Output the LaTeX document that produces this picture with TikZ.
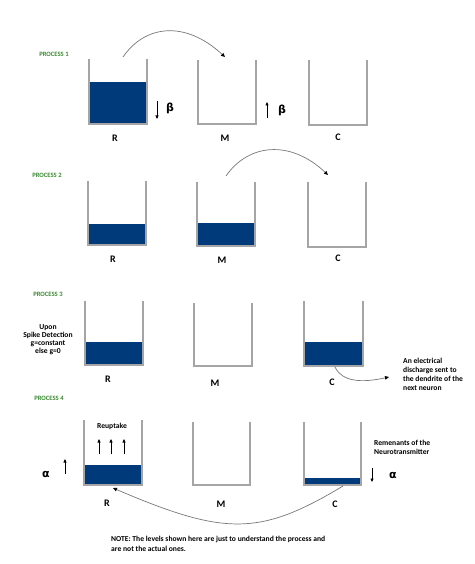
\documentclass[tikz,border=0pt]{standalone}
\usepackage{fontspec}
\setmainfont{Carlito}
\newfontfamily\greekfont{DejaVu Sans}
\usetikzlibrary{arrows.meta}
\definecolor{navy}{RGB}{0,58,122}
\definecolor{wallgray}{RGB}{165,165,165}
\definecolor{procgreen}{RGB}{58,140,50}
\definecolor{arcgray}{RGB}{120,120,120}
\newcommand\beaker[5]{%
  \fill[navy] (#1,#5) rectangle (#2,#4);
  \draw[wall] (#1,#3) -- (#1,#4) -- (#2,#4) -- (#2,#3);}
\begin{document}
\begin{tikzpicture}[x=1pt,y=-1pt,
  wall/.style={wallgray,line width=1.2pt},
  proc/.style={font=\fontsize{6.6}{7}\selectfont\bfseries,text=procgreen,inner sep=0pt},
  lbl/.style={font=\fontsize{10}{11}\selectfont\bfseries,inner sep=0pt},
  small/.style={font=\fontsize{7.6}{8.6}\selectfont\bfseries,inner sep=0pt},
  greek/.style={font=\greekfont\fontsize{11}{12}\selectfont\bfseries,inner sep=0pt},
  flow/.style={arcgray,line width=0.7pt,-{Triangle[length=4pt,width=3.5pt,fill=black,color=black]}},
  tick/.style={black,line width=0.6pt,-{Triangle[length=3.5pt,width=3pt]}}]
\fill[white] (0,0) rectangle (474,564);
\useasboundingbox (0,0) rectangle (474,564);

% ---------- PROCESS 1
\node[proc] (p1) at (54,54) {PROCESS 1};
\beaker{89}{147}{59}{124}{82}
\beaker{198}{256}{60}{124}{124}
\beaker{309}{367}{60}{125}{125}
\node[lbl] (r1) at (115,138) {R};
\node[lbl] (m1) at (225,138) {M};
\node[lbl] (c1) at (338,137) {C};
\coordinate (a1s) at (123,57);
\coordinate (a1e) at (225,57);
\draw[flow] (a1s) .. controls (145,25) and (185,20) .. (a1e);
\coordinate (d1a) at (157,101); \coordinate (d1b) at (157,119);
\draw[tick] (d1a) -- (d1b);
\node[greek] (b1) at (170,108) {β};
\coordinate (u1a) at (267,118); \coordinate (u1b) at (267,102);
\draw[tick] (u1a) -- (u1b);
\node[greek] (b2) at (282,110) {β};

% ---------- PROCESS 2
\node[proc] (p2) at (47,175) {PROCESS 2};
\beaker{88}{146}{181}{245}{224}
\beaker{197}{255}{182}{246}{223}
\beaker{308}{366}{182}{247}{247}
\node[lbl] (r2) at (113,259) {R};
\node[lbl] (m2) at (222,260) {M};
\node[lbl] (c2) at (338,258) {C};
\coordinate (a2s) at (226,176);
\coordinate (a2e) at (328,175);
\draw[flow] (a2s) .. controls (248,144) and (290,139) .. (a2e);

% ---------- PROCESS 3
\node[proc] (p3) at (48,294) {PROCESS 3};
\beaker{85}{143}{301}{365}{342}
\beaker{194}{252}{303}{366}{366}
\beaker{304}{363}{301}{366}{342}
\node[lbl] (r3) at (108,379) {R};
\node[lbl] (m3) at (215,383) {M};
\node[lbl] (c3) at (332,382) {C};
\node[small,align=center,font=\fontsize{7.6}{8}\selectfont\bfseries] (spike) at (48,340) {Upon\\Spike Detection\\g=constant\\else g=0};
\node[small,align=left,anchor=west,font=\fontsize{7.6}{9}\selectfont\bfseries] (dis) at (403,374) {An electrical\\discharge sent to\\the dendrite of the\\next neuron};
\coordinate (a3s) at (335,367);
\coordinate (a3e) at (389,377);
\draw[flow] (a3s) .. controls (342,382) and (362,383) .. (a3e);

% ---------- PROCESS 4
\node[proc] (p4) at (49,398) {PROCESS 4};
\beaker{84}{142}{420}{485}{465}
\beaker{193}{250}{422}{485}{485}
\beaker{304}{361}{422}{485}{478}
\node[lbl] (r4) at (107,503) {R};
\node[lbl] (m4) at (221,504) {M};
\node[lbl] (c4) at (335,504) {C};
\node[small] (reup) at (112,426) {Reuptake};
\foreach \xx in {99,111,124}{\draw[tick] (\xx,454) -- (\xx,439);}
\node[greek] (al1) at (46,474) {α};
\coordinate (u4a) at (65,474); \coordinate (u4b) at (65,459);
\draw[tick] (u4a) -- (u4b);
\node[small,align=left,anchor=west,font=\fontsize{7.6}{9}\selectfont\bfseries] (rem) at (374,447.5) {Remenants of the\\Neurotransmitter};
\coordinate (d4a) at (372,468); \coordinate (d4b) at (372,482);
\draw[tick] (d4a) -- (d4b);
\node[greek] (al2) at (393,475) {α};
\coordinate (a4s) at (343,486);
\coordinate (a4e) at (113,488);
\draw[flow] (a4s) .. controls (260,536) and (225,536) .. (a4e);
\node[small,align=left,anchor=west,font=\fontsize{7.6}{10}\selectfont\bfseries] (note) at (111,544) {NOTE: The levels shown here are just to understand the process and\\are not the actual ones.};
\end{tikzpicture}
\end{document}
